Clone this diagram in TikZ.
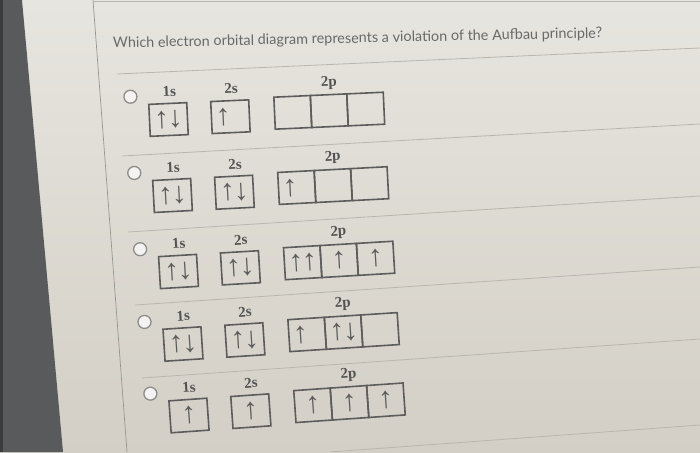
\documentclass[tikz,border=0pt]{standalone}
\usepackage{fontspec}
\setmainfont{Lato}
\newfontfamily\labelfont{Liberation Serif}
\newfontfamily\arrowfont{Liberation Sans}
\usetikzlibrary{positioning}

\definecolor{panelTop}{RGB}{231,229,223}
\definecolor{panelBot}{RGB}{211,207,198}
\definecolor{sidegray}{RGB}{88,90,91}
\definecolor{sideedge}{RGB}{58,60,61}
\definecolor{rulegray}{RGB}{184,182,174}
\definecolor{bordergray}{RGB}{150,150,145}
\definecolor{textgray}{RGB}{105,105,105}
\definecolor{boxgray}{RGB}{92,92,92}
\definecolor{radiogray}{RGB}{140,140,138}

% arrows for the spins
\newcommand{\ua}{\makebox[13.5pt]{\arrowfont ↑}}
\newcommand{\da}{\makebox[13.5pt]{\arrowfont ↓}}
\newcommand{\lft}[1]{#1\hfill\null}

\begin{document}
\begin{tikzpicture}[
    x=1pt, y=-1pt,
    % Styles
    orbS/.style={% For the 1s and 2s boxes
        rectangle,
        draw=boxgray,
        line width=1.6pt,
        minimum height=32pt,
        inner xsep=5pt,
        inner ysep=0pt,
        text width=28pt,
        align=center,
        text=boxgray,
        font=\fontsize{30}{30}\selectfont,
        },
    orbP/.style={% For one cell of 2p
        orbS,
        text width=26.5pt,
        },
    radio/.style={% For the answer buttons
        circle,
        draw=radiogray,
        line width=1.3pt,
        fill=white!55!panelTop,
        minimum size=13pt,
        inner sep=0pt,
        },
    shell/.style={% For 1s, 2s, 2p
        text=boxgray!90!black,
        font=\labelfont\bfseries\fontsize{15}{15}\selectfont,
        inner sep=0pt,
        },
    rule/.style={% For the lines between answers
        draw=rulegray,
        line width=0.8pt,
        },
    ]

    % Background
    \useasboundingbox (0,0) rectangle (700,452);
    \shade[top color=panelTop, bottom color=panelBot] (0,0) rectangle (700,452);
    \fill[sidegray] (0,0) -- (22,0) -- (63,452) -- (0,452) -- cycle;
    \fill[sideedge] (0,0) rectangle (3,452);
    \draw[bordergray, line width=0.7pt] (93,0) -- (127,452);
    \draw[rulegray, line width=0.6pt] (93,1) -- (700,1);

    % Question
    \node[anchor=base west, rotate=1.2, text=textgray,
        font=\fontsize{14.4}{17}\selectfont, inner sep=0pt] (question) at (113,48)
        {Which electron orbital diagram represents a violation of the Aufbau principle?};

    % Lines between the answers
    \draw[rule] (117,74) -- (700,48);
    \draw[rule] (122,156) -- (700,124);
    \draw[rule] (128,232) -- (700,196);
    \draw[rule] (135,305) -- (700,267);
    \draw[rule] (142,378) -- (700,339);
    \draw[rule] (330,452) -- (700,425);

    % Answers: row / 1s centre / tilt / contents
    \foreach \i/\x/\y/\t/\sa/\sb/\pa/\pb/\pc in {
        1/168.5/119.5/2.6/{\ua\da}/{\lft{\ua}}/{}/{}/{},
        2/172.5/195.5/3.0/{\ua\da}/{\ua\da}/{\lft{\ua}}/{}/{},
        3/178.5/271.5/3.4/{\ua\da}/{\ua\da}/{\ua\ua}/{\ua}/{\ua},
        4/183/344/3.7/{\ua\da}/{\ua\da}/{\lft{\ua}}/{\ua\da}/{},
        5/189/415.5/4.0/{\ua}/{\ua}/{\ua}/{\ua}/{\ua}}{
    \begin{scope}[shift={(\x,\y)}, rotate=\t, transform shape]
        \node[radio] (radio\i) at (-37,-24.5) {};
        % 1s and 2s
        \node[orbS] (s1\i) at (0,0) {\sa};
        \node[orbS] (s2\i) at (62,0) {\sb};
        % 2p
        \node[orbP] (p1\i) at (124.5,-1.5) {\pa};
        \node[orbP] (p2\i) at (161,-1.5) {\pb};
        \node[orbP] (p3\i) at (197.5,-1.5) {\pc};
        % labels
        \node[shell] (l1\i) at (2,-28) {1s};
        \node[shell] (l2\i) at (64,-28) {2s};
        \node[shell] (l3\i) at (162,-29.5) {2p};
    \end{scope}
    }
\end{tikzpicture}
\end{document}
